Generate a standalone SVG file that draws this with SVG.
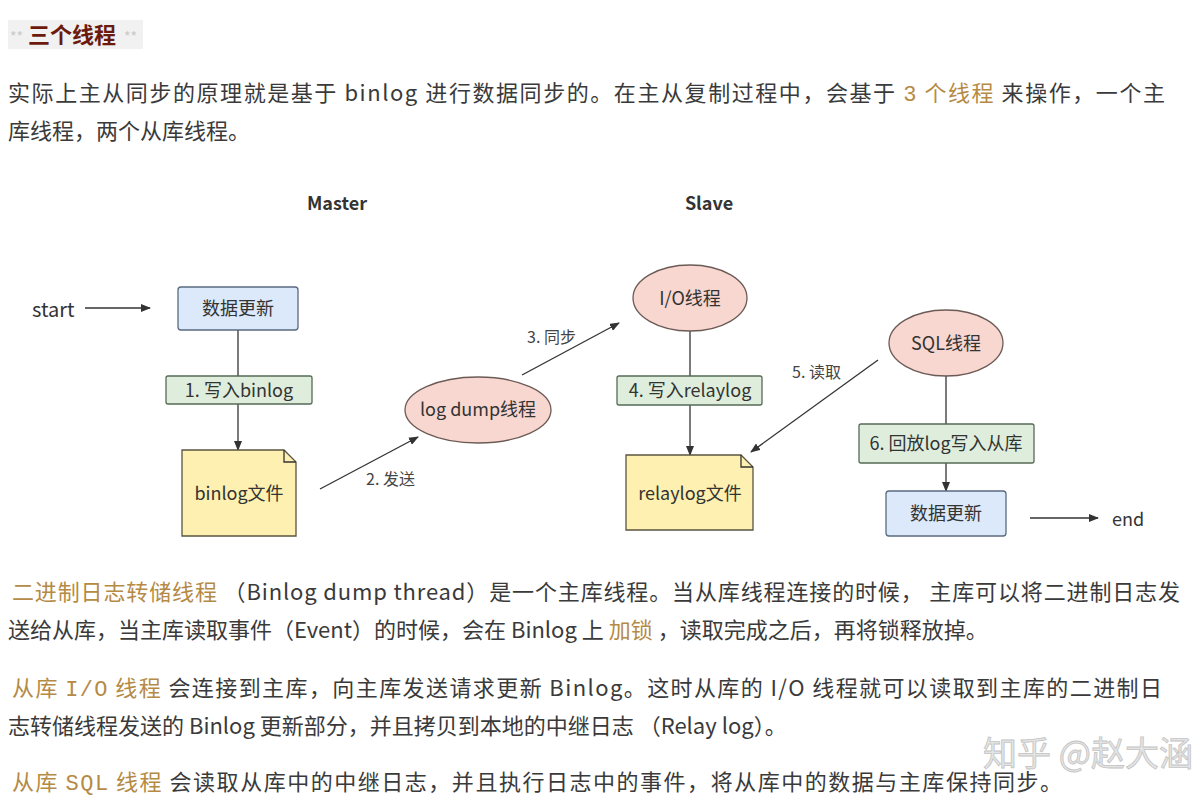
<svg xmlns="http://www.w3.org/2000/svg" width="1202" height="805" viewBox="0 0 1202 805">
<style>
text{font-family:"Noto Sans CJK SC","Noto Sans",sans-serif}
.p{font-size:22px;fill:#3a3a3a}
.h{fill:#b58a45}
.m{font-family:"Liberation Mono","Noto Sans CJK SC",monospace;fill:#b58a45}
.n{font-size:18px;fill:#333;text-anchor:middle}
.l{font-size:16px;fill:#444}
.c{stroke:#333;stroke-width:1.3;fill:none}
.e{fill:#f8d7d0;stroke:#6b5a55;stroke-width:1.3}
.g{fill:#dfeedc;stroke:#556b55;stroke-width:1.3}
.b{fill:#dbe9fb;stroke:#5a6a80;stroke-width:1.3}
.f{fill:#fdf0b0;stroke:#5a5440;stroke-width:1.3}
</style>
<defs><marker id="a" markerWidth="10" markerHeight="8" refX="9" refY="4" orient="auto" markerUnits="userSpaceOnUse"><path d="M0,0L10,4L0,8z" fill="#333"/></marker></defs>
<rect width="1202" height="805" fill="#fff"/>
<rect x="8" y="20" width="135" height="29" fill="#f1f1f1"/>
<text x="10" y="42" font-size="14" fill="#c8c8c8">**</text>
<text x="28" y="43" font-size="22" font-weight="bold" fill="#6b1a0c">三个线程</text>
<text x="124" y="42" font-size="14" fill="#c8c8c8">**</text>
<text class="p" x="8" y="101" textLength="1157">实际上主从同步的原理就是基于 binlog 进行数据同步的。在主从复制过程中，会基于 <tspan class="m">3</tspan> <tspan class="h">个线程</tspan> 来操作，一个主</text>
<text class="p" x="8" y="139">库线程，两个从库线程。</text>
<g id="labels">
<text x="337" y="210" font-size="18" font-weight="bold" fill="#333" text-anchor="middle">Master</text>
<text x="709" y="210" font-size="18" font-weight="bold" fill="#333" text-anchor="middle">Slave</text>
<text x="32" y="317" font-size="20" fill="#333">start</text>
<text x="1112" y="526" font-size="18" fill="#333">end</text>
</g>
<g id="connectors">
<line class="c" x1="85" y1="308" x2="150" y2="308" marker-end="url(#a)"/>
<line class="c" x1="238" y1="330" x2="238" y2="376"/>
<line class="c" x1="238" y1="404" x2="238" y2="450" marker-end="url(#a)"/>
<line class="c" x1="320" y1="489" x2="418" y2="437" marker-end="url(#a)"/>
<text class="l" x="366" y="485">2. 发送</text>
<line class="c" x1="522" y1="375" x2="619" y2="323" marker-end="url(#a)"/>
<text class="l" x="527" y="343">3. 同步</text>
<line class="c" x1="690" y1="331" x2="690" y2="376"/>
<line class="c" x1="690" y1="405" x2="690" y2="455" marker-end="url(#a)"/>
<line class="c" x1="878" y1="360" x2="751" y2="452" marker-end="url(#a)"/>
<text class="l" x="792" y="378">5. 读取</text>
<line class="c" x1="946" y1="376" x2="946" y2="424"/>
<line class="c" x1="946" y1="463" x2="946" y2="491" marker-end="url(#a)"/>
<line class="c" x1="1030" y1="518" x2="1098" y2="518" marker-end="url(#a)"/>
</g>
<g id="n1"><rect class="b" x="178" y="287" width="120" height="43" rx="3"/><text class="n" x="238" y="315">数据更新</text></g>
<g id="n2"><rect class="g" x="166" y="376" width="146" height="28" rx="2"/><text class="n" x="239" y="397">1. 写入binlog</text></g>
<g id="n3"><path class="f" d="M182,450H284L296,462V536H182Z"/><path class="c" d="M284,450V462H296" stroke="#5a5440"/><text class="n" x="239" y="500">binlog文件</text></g>
<g id="n4"><ellipse class="e" cx="478" cy="410" rx="73" ry="33"/><text class="n" x="478" y="416">log dump线程</text></g>
<g id="n5"><ellipse class="e" cx="690" cy="298" rx="57" ry="33"/><text class="n" x="690" y="305">I/O线程</text></g>
<g id="n6"><rect class="g" x="617" y="376" width="145" height="29" rx="2"/><text class="n" x="690" y="397">4. 写入relaylog</text></g>
<g id="n7"><path class="f" d="M626,455H741L753,467V530H626Z"/><path class="c" d="M741,455V467H753" stroke="#5a5440"/><text class="n" x="690" y="500">relaylog文件</text></g>
<g id="n8"><ellipse class="e" cx="946" cy="343" rx="57" ry="33"/><text class="n" x="946" y="350">SQL线程</text></g>
<g id="n9"><rect class="g" x="859" y="424" width="175" height="39" rx="2"/><text class="n" x="946" y="450">6. 回放log写入从库</text></g>
<g id="n10"><rect class="b" x="886" y="491" width="120" height="45" rx="3"/><text class="n" x="946" y="520">数据更新</text></g>
<text class="p" x="12" y="600" textLength="1168"><tspan class="h">二进制日志转储线程</tspan> （Binlog dump thread）是一个主库线程。当从库线程连接的时候， 主库可以将二进制日志发</text>
<text class="p" x="8" y="638">送给从库，当主库读取事件（Event）的时候，会在 Binlog 上 <tspan class="h">加锁</tspan> ，读取完成之后，再将锁释放掉。</text>
<text class="p" x="12" y="696" textLength="1150"><tspan class="h">从库 </tspan><tspan class="m">I/O</tspan><tspan class="h"> 线程</tspan> 会连接到主库，向主库发送请求更新 Binlog。这时从库的 I/O 线程就可以读取到主库的二进制日</text>
<text class="p" x="8" y="734">志转储线程发送的 Binlog 更新部分，并且拷贝到本地的中继日志 （Relay log）。</text>
<text x="1088" y="766" font-size="34" fill="#e4e4e4" stroke="#c4c4c4" stroke-width="0.8" text-anchor="middle">知乎 @赵大涵</text>
<text class="p" x="12" y="790" textLength="1050"><tspan class="h">从库 </tspan><tspan class="m">SQL</tspan><tspan class="h"> 线程</tspan> 会读取从库中的中继日志，并且执行日志中的事件，将从库中的数据与主库保持同步。</text>
</svg>
